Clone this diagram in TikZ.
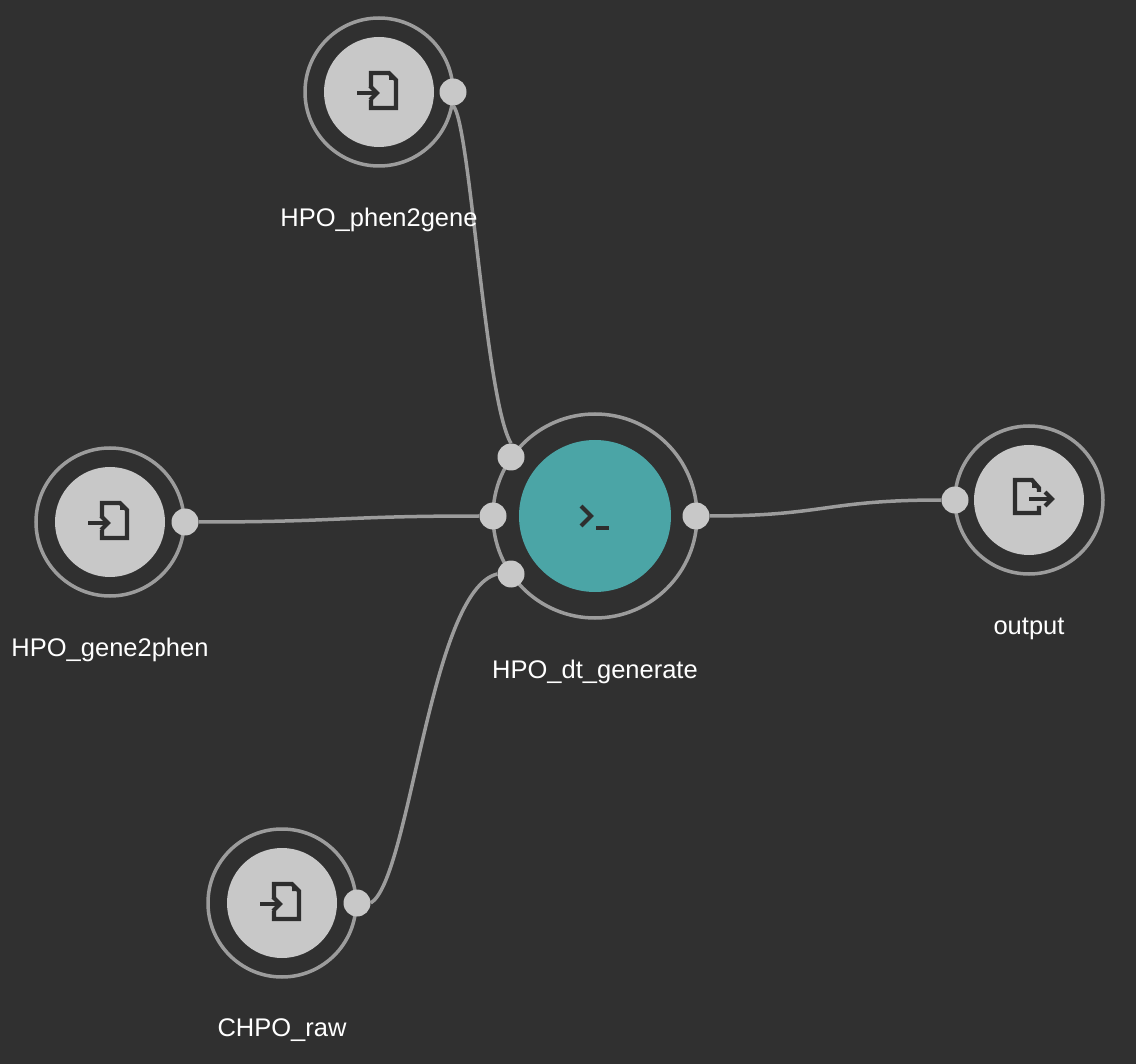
\documentclass[tikz,border=0pt]{standalone}
\usepackage{fontspec}
\setmainfont{Liberation Sans}
\definecolor{bg}{HTML}{303030}
\definecolor{ring}{HTML}{9C9C9C}
\definecolor{fillc}{HTML}{C8C8C8}
\definecolor{teal}{HTML}{4BA5A6}
\definecolor{icon}{HTML}{2E2E2E}
\begin{document}
\begin{tikzpicture}[x=1pt,y=-1pt,
  outer/.style={circle,draw=ring,line width=3.5pt,minimum size=148pt,inner sep=0},
  inner/.style={circle,fill=fillc,minimum size=110pt,inner sep=0},
  port/.style={circle,fill=fillc,minimum size=27pt,inner sep=0},
  lab/.style={text=white,font=\fontsize{25.5}{30}\selectfont},
  edge/.style={draw=ring,line width=3.5pt},
  ic/.style={draw=icon,line width=4.2pt},
  imp/.pic={\draw[ic] (-8,-4)--(-8,-19)--(10,-19)--(17,-12)--(17,16)--(-8,16)--(-8,8);
    \fill[icon] (10,-17)--(15,-12)--(10,-12)--cycle;
    \draw[ic] (-22,1)--(-2,1); \draw[ic] (-9,-6)--(-2,1)--(-9,8);},
  exp/.pic={\draw[ic] (10,-8)--(10,-12)--(3,-20)--(-14,-20)--(-14,13)--(10,13)--(10,6);
    \fill[icon] (3,-18)--(8,-12)--(3,-12)--cycle;
    \draw[ic] (0,-1)--(23,-1); \draw[ic] (16,-8)--(23,-1)--(16,6);}
]
\fill[bg] (0,0) rectangle (1136,1064);
\useasboundingbox (0,0) rectangle (1136,1064);
\node[outer] (p2g) at (379,92) {}; \node[inner] (p2gi) at (379,92) {};
\node[outer] (g2p) at (110,522) {}; \node[inner] (g2pi) at (110,522) {};
\node[outer] (chpo) at (282,903) {}; \node[inner] (chpoi) at (282,903) {};
\node[outer] (out) at (1029,500) {}; \node[inner] (outi) at (1029,500) {};
\node[circle,draw=ring,line width=3.5pt,minimum size=204pt,inner sep=0] (dt) at (595,516) {};
\node[circle,fill=teal,minimum size=152pt,inner sep=0] (dti) at (595,516) {};
\pic at (379,92) {imp}; \pic at (110,522) {imp}; \pic at (282,903) {imp};
\pic at (1029,500) {exp};
\draw[ic] (581,506)--(591,516)--(581,526); \draw[ic] (596,528)--(609,528);
\node[port] (a) at (453,92) {};
\node[port] (b) at (185,522) {};
\node[port] (c) at (357,903) {};
\node[port] (d) at (955,500) {};
\node[port] (i1) at (511,457) {};
\node[port] (i2) at (493,516) {};
\node[port] (i3) at (511,574) {};
\node[port] (o1) at (696,516) {};
\path[edge] (a.south) .. controls (470,120) and (485,400) .. (i1.north);
\path[edge] (b.east) .. controls (340,522) and (340,516) .. (i2.west);
\path[edge] (c.east) .. controls (410,880) and (430,590) .. (i3.west);
\path[edge] (o1.east) .. controls (825,516) and (825,500) .. (d.west);
\node[lab] (l1) at (379,220) {HPO\_phen2gene};
\node[lab] (l2) at (110,650) {HPO\_gene2phen};
\node[lab] (l3) at (282,1030) {CHPO\_raw};
\node[lab] (l4) at (595,672) {HPO\_dt\_generate};
\node[lab] (l5) at (1029,629) {output};
\end{tikzpicture}
\end{document}
